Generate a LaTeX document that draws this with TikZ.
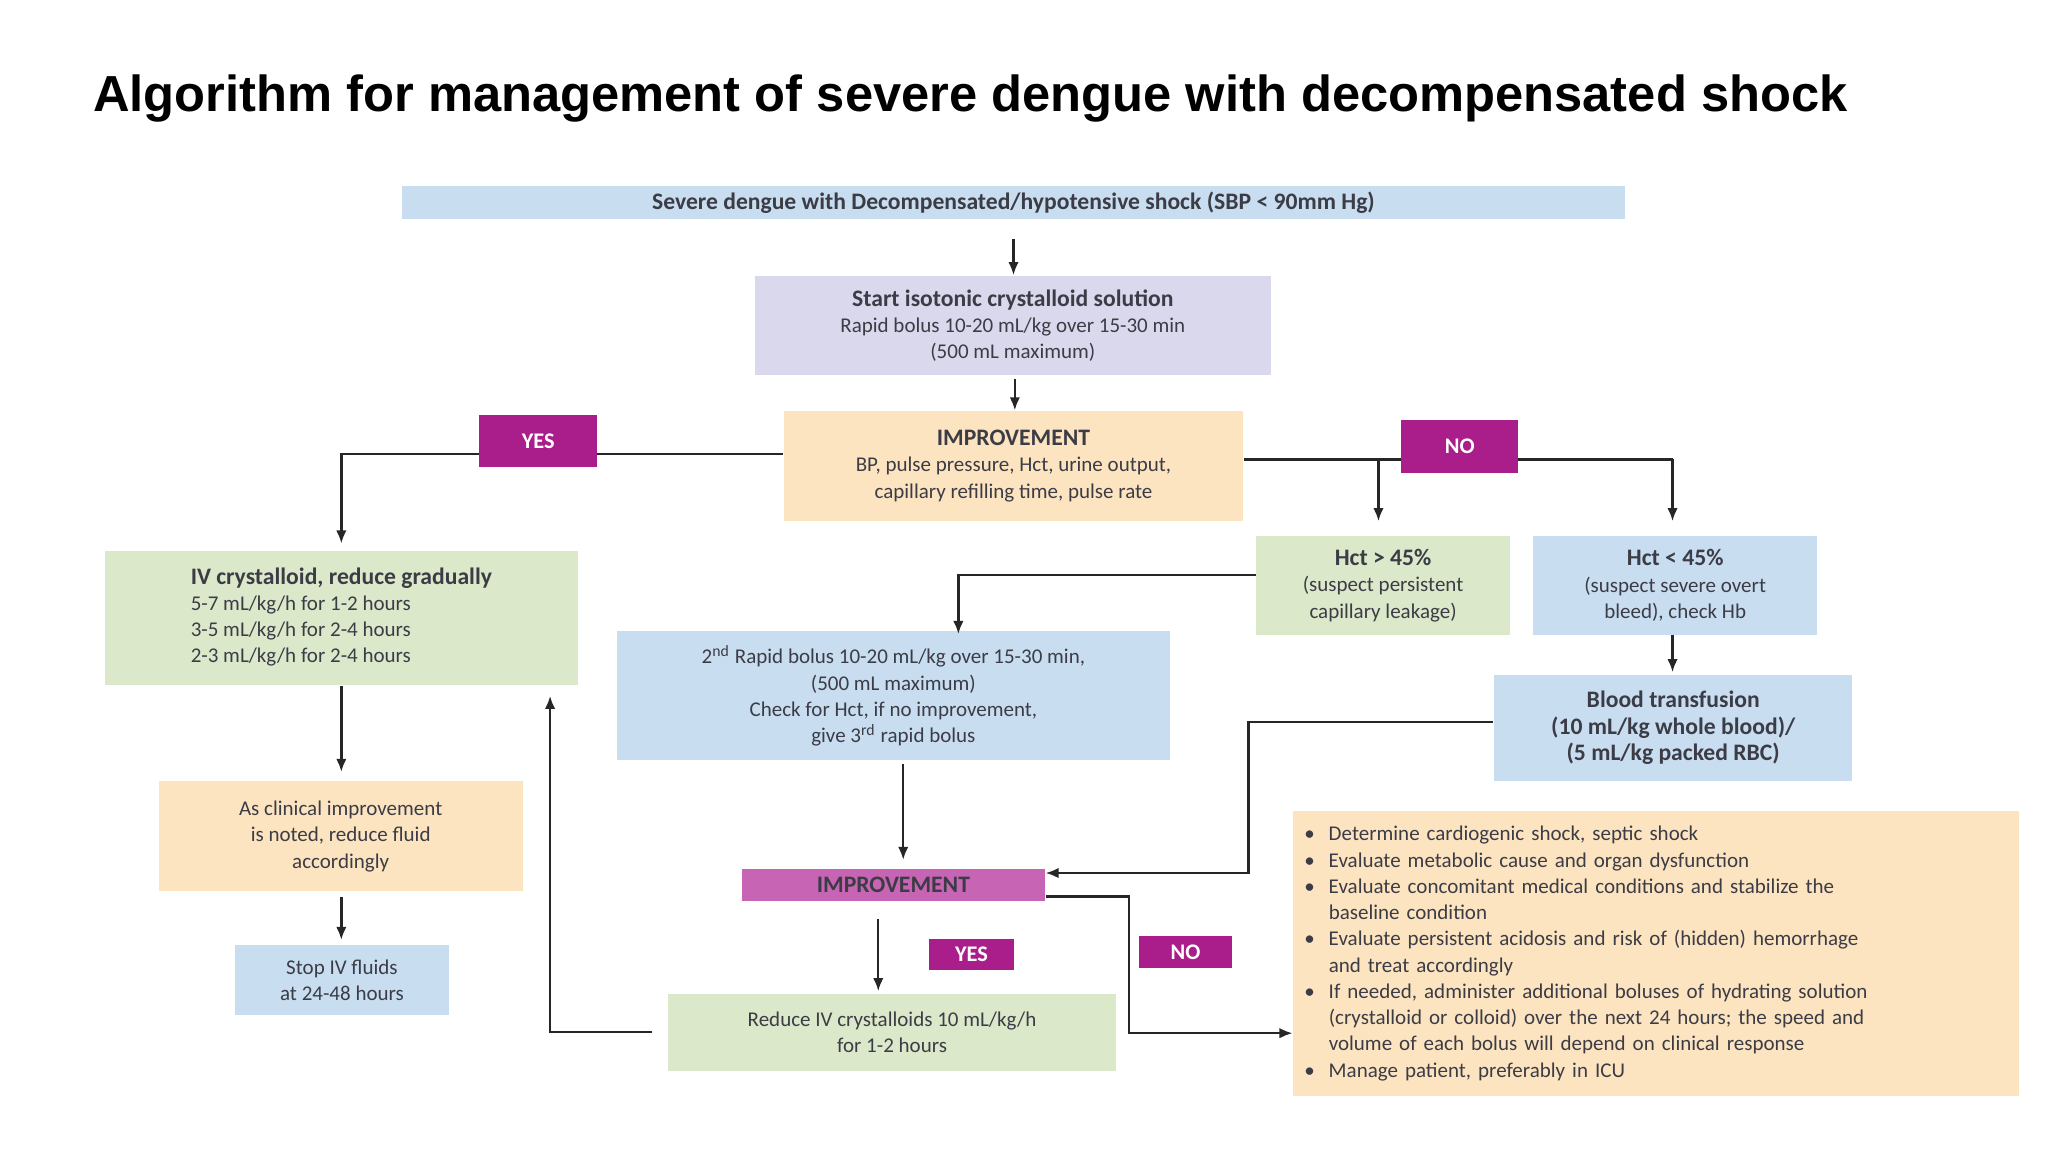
\documentclass[tikz,border=0pt]{standalone}
\usepackage{fontspec}
\setmainfont{Carlito}
\newfontfamily\titlefont{Liberation Sans}
\usetikzlibrary{arrows.meta}
\definecolor{cblue}{RGB}{200,222,240}
\definecolor{cpurp}{RGB}{218,216,236}
\definecolor{corange}{RGB}{252,228,192}
\definecolor{cgreen}{RGB}{220,232,202}
\definecolor{cmag}{RGB}{170,30,140}
\definecolor{cpink}{RGB}{200,100,180}
\definecolor{ctext}{RGB}{60,60,70}
\begin{document}
\begin{tikzpicture}[x=0.5pt,y=-0.5pt,
 box/.style={draw=none,inner sep=1pt,align=center,text=ctext,font=\fontsize{8}{10}\selectfont},
 tag/.style={fill=cmag,text=white,font=\bfseries\fontsize{8.5}{10}\selectfont,inner sep=0pt},
 arr/.style={-{Latex[length=5pt,width=4pt]},line width=0.9pt,black!85},
 ln/.style={line width=0.9pt,black!85}]
\useasboundingbox (0,0) rectangle (1560,877);
\def\B#1#2#3#4#5#6#7{\node[box,fill=#6,minimum width={(#3-#1)*0.5pt},minimum height={(#4-#2)*0.5pt}] (#5) at ({(#1+#3)/2},{(#2+#4)/2}) {#7};}
\node[anchor=west,font=\titlefont\bfseries\fontsize{19.3}{22}\selectfont] (title) at (64,75) {Algorithm for management of severe dengue with decompensated shock};
\B{306}{142}{1238}{167}{top}{cblue}{\bfseries\fontsize{9}{11}\selectfont Severe dengue with Decompensated/hypotensive shock (SBP < 90mm Hg)}
\B{575}{210}{968}{286}{start}{cpurp}{{\bfseries\fontsize{9}{11}\selectfont Start isotonic crystalloid solution}\\Rapid bolus 10-20 mL/kg over 15-30 min\\(500 mL maximum)}
\B{597}{313}{947}{397}{imp}{corange}{{\bfseries\fontsize{9}{11}\selectfont IMPROVEMENT}\\BP, pulse pressure, Hct, urine output,\\capillary refilling time, pulse rate}
\B{957}{408}{1150}{484}{hgt}{cgreen}{{\bfseries\fontsize{9}{11}\selectfont Hct > 45\%}\\(suspect persistent\\capillary leakage)}
\B{1168}{408}{1384}{484}{hlt}{cblue}{{\bfseries\fontsize{9}{11}\selectfont Hct < 45\%}\\(suspect severe overt\\bleed), check Hb}
\B{80}{420}{440}{522}{iv}{cgreen}{\begin{tabular}{@{}l@{}}{\bfseries\fontsize{9}{11}\selectfont IV crystalloid, reduce gradually}\\5-7 mL/kg/h for 1-2 hours\\3-5 mL/kg/h for 2-4 hours\\2-3 mL/kg/h for 2-4 hours\end{tabular}}
\B{470}{481}{891}{579}{bolus}{cblue}{2\textsuperscript{nd} Rapid bolus 10-20 mL/kg over 15-30 min,\\(500 mL maximum)\\Check for Hct, if no improvement,\\give 3\textsuperscript{rd} rapid bolus}
\B{1138}{514}{1411}{595}{blood}{cblue}{\bfseries\fontsize{9}{11}\selectfont Blood transfusion\\\bfseries\fontsize{9}{11}\selectfont (10 mL/kg whole blood)/\\\bfseries\fontsize{9}{11}\selectfont (5 mL/kg packed RBC)}
\B{121}{595}{398}{679}{clin}{corange}{As clinical improvement\\is noted, reduce fluid\\accordingly}
\B{179}{720}{342}{773}{stop}{cblue}{Stop IV fluids\\at 24-48 hours}
\B{565}{662}{796}{686}{imp2}{cpink}{\bfseries\fontsize{9}{11}\selectfont IMPROVEMENT}
\B{509}{757}{850}{816}{red}{cgreen}{Reduce IV crystalloids 10 mL/kg/h\\for 1-2 hours}
\node[box,fill=corange,minimum width=276.5pt,minimum height=108.5pt,text width=268pt,align=left] (eval) at (1261.5,726.5) {\begin{tabular}{@{}l@{}}\textbullet\ \ Determine cardiogenic shock, septic shock\\
\textbullet\ \ Evaluate metabolic cause and organ dysfunction\\
\textbullet\ \ Evaluate concomitant medical conditions and stabilize the\\\phantom{\textbullet\ \ }baseline condition\\
\textbullet\ \ Evaluate persistent acidosis and risk of (hidden) hemorrhage\\\phantom{\textbullet\ \ }and treat accordingly\\
\textbullet\ \ If needed, administer additional boluses of hydrating solution\\\phantom{\textbullet\ \ }(crystalloid or colloid) over the next 24 hours; the speed and\\\phantom{\textbullet\ \ }volume of each bolus will depend on clinical response\\
\textbullet\ \ Manage patient, preferably in ICU\end{tabular}};
% connectors
\coordinate (a1) at (772,182);
\draw[arr] (a1) -- (start.north -| a1);
\coordinate (a2) at (773,289);
\draw[arr] (a2) -- (imp.north -| a2);
\coordinate (yl) at (260,346);
\draw[arr] (imp.west |- yl) -- (yl) -- (260,414);
\node[tag,minimum width=45pt,minimum height=20pt] (yes1) at (410,336) {YES};
\coordinate (nr) at (1274,350);
\draw[ln] (imp.east |- nr) -- (nr);
\draw[arr] (nr) -- (1274,397);
\draw[arr] (1050,350) -- (1050,397);
\node[tag,minimum width=44.5pt,minimum height=20pt] (no1) at (1112,340) {NO};
\coordinate (hb) at (730,438);
\draw[arr] (hgt.west |- hb) -- (hb) -- (730,483);
\coordinate (h1) at (1274,484);
\draw[arr] (h1) -- (1274,512);
\draw[arr] (blood.west |- 0,550) -- (951,550) -- (951,665) -- (imp2.east |- 0,665);
\draw[arr] (iv.south -| 260,0) -- (260,588);
\coordinate (c1) at (260,683);
\draw[arr] (c1) -- (260,716);
\coordinate (b1) at (688,582);
\draw[arr] (b1) -- (688,655);
\coordinate (y2) at (669,700);
\draw[arr] (y2) -- (669,755);
\node[tag,minimum width=32.5pt,minimum height=11.5pt] (yes2) at (740,727) {YES};
\coordinate (nb) at (860,683);
\draw[arr] (imp2.east |- nb) -- (nb) -- (860,787) -- (eval.west |- 0,787);
\node[tag,minimum width=35.5pt,minimum height=12pt] (no2) at (903,725) {NO};
\coordinate (rl) at (419,786);
\draw[arr] (497,786) -- (rl) -- (419,530);
\end{tikzpicture}
\end{document}
